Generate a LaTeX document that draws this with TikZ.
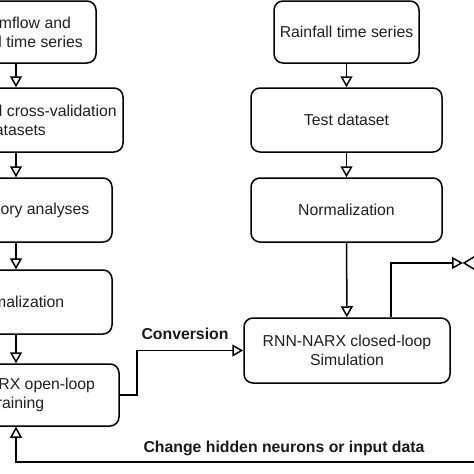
\documentclass[tikz,border=0pt]{standalone}
\usepackage{fontspec}
\setmainfont{Liberation Sans}
\usetikzlibrary{arrows.meta,shapes.geometric}

\tikzset{
  stage/.style={rectangle, draw=black, rounded corners=9pt, line width=1.5pt,
    align=center, inner sep=0, text=black!88, font=\fontsize{15.8}{19}\selectfont},
  flow/.style={-{Triangle[open, length=11pt, width=12pt]}, line width=1.5pt},
  tag/.style={inner sep=0, text=black!90, font=\fontsize{15.8}{19}\selectfont\bfseries}
}

\begin{document}
\begin{tikzpicture}[x=1pt, y=-1pt]
  \useasboundingbox (0,0) rectangle (474,474);
  \clip (0,0) rectangle (474,474);

  % open-loop (training) column
  \node[stage, minimum width=160pt, minimum height=62pt] (flow) at (16,32) {Streamflow and\\Rainfall time series};
  \node[stage, minimum width=214pt, minimum height=64pt] (cvset) at (16,120) {Training and cross-validation\\datasets};
  \node[stage, minimum width=192pt, minimum height=64pt] (explore) at (16,210) {Exploratory analyses};
  \node[stage, minimum width=192pt, minimum height=64pt] (lnorm) at (16,302) {Normalization};
  \node[stage, minimum width=206pt, minimum height=62pt] (openloop) at (16,395) {RNN-NARX open-loop\\Training};

  \draw[flow] (flow) -- (cvset);
  \draw[flow] (cvset) -- (explore);
  \draw[flow] (explore) -- (lnorm);
  \draw[flow] (lnorm) -- (openloop);

  % closed-loop (test) column
  \node[stage, minimum width=145pt, minimum height=62pt] (rain) at (346.5,32) {Rainfall time series};
  \node[stage, minimum width=191pt, minimum height=64pt] (testset) at (346.5,120) {Test dataset};
  \node[stage, minimum width=191pt, minimum height=64pt] (rnorm) at (346.5,210) {Normalization};
  \node[stage, minimum width=206pt, minimum height=65pt] (closedloop) at (347,350.5) {RNN-NARX closed-loop\\Simulation};
  \node[diamond, draw=black, line width=1.5pt, minimum width=100pt, minimum height=62pt, anchor=west] (check) at (463,263) {};

  \draw[flow] (rain) -- (testset);
  \draw[flow] (testset) -- (rnorm);
  \draw[flow] (rnorm) -- (closedloop);

  \draw[flow] (openloop.east) -- ++(17,0) |- (closedloop.west) node[tag, pos=0.75, above=10pt, xshift=-5pt]{Conversion};
  \draw[flow] ([xshift=44pt]closedloop.north) |- (check.west);

  % feedback loop
  \coordinate (fbk) at (552,462);
  \draw[flow] (fbk) -- (openloop.south |- fbk) node[tag, midway, above=5pt]{Change hidden neurons or input data} -- (openloop.south);
\end{tikzpicture}
\end{document}
